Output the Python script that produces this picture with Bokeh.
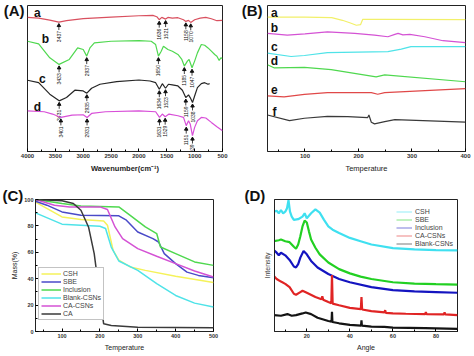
import numpy as np
from bokeh.plotting import figure
from bokeh.models import Range1d, FixedTicker, Legend, LegendItem, LinearAxis
from bokeh.layouts import column, row
from bokeh.embed import file_html
from bokeh.resources import INLINE
from bokeh.core.properties import value

FONT = "Liberation Sans"

# ---------------- Panel A: FTIR ----------------
wn_a = [4000, 3800, 3600, 3437, 3300, 3000, 2500, 2000, 1750, 1680, 1636, 1590, 1521, 1480, 1400, 1300, 1200, 1158, 1110, 1070, 1000, 900, 800, 700, 600, 500]
tr_a = [135, 134.3, 132.3, 130.3, 131.7, 133.7, 135.3, 136.7, 137, 135.7, 132.7, 135, 133.3, 135, 134.3, 134.7, 132.7, 131, 132, 130, 132.7, 134.3, 135, 133.7, 131.7, 132]
wn_b = [4000, 3800, 3600, 3433, 3250, 3100, 3000, 2937, 2880, 2800, 2500, 2000, 1780, 1700, 1650, 1600, 1560, 1480, 1400, 1300, 1230, 1185, 1130, 1100, 1047, 1000, 950, 880, 820, 760, 700, 640, 600, 560, 530, 500]
tr_b = [111, 108.3, 94.3, 87.7, 92.7, 104.3, 102.7, 96, 104.3, 109.3, 111, 111.7, 111, 107.7, 96, 101, 106, 102.7, 101, 97.7, 92.7, 86, 91, 92.7, 84.3, 91, 99.3, 107.7, 107, 104.3, 101, 97.7, 96, 91.7, 94.3, 93.7]
wn_c = [4000, 3800, 3600, 3431, 3300, 3150, 3000, 2935, 2850, 2700, 2400, 2000, 1800, 1700, 1634, 1580, 1523, 1470, 1400, 1300, 1220, 1159, 1110, 1080, 1038, 990, 950, 880, 820, 760, 731]
tr_c = [71.7, 69.3, 57.7, 51, 54.3, 61.7, 61, 58.7, 63.7, 67.7, 70.3, 72, 71, 69.3, 62.7, 68.3, 63.7, 67.7, 67, 66, 61.7, 54.3, 57, 54.3, 49.3, 57.7, 64.3, 68.3, 69.3, 67.7, 68.3]
wn_d = [4000, 3700, 3550, 3401, 3200, 3000, 2931, 2850, 2600, 2000, 1700, 1631, 1580, 1529, 1460, 1300, 1200, 1151, 1110, 1080, 1039, 1000, 950, 880, 800, 700, 600, 500]
tr_d = [41, 40, 37.7, 34.3, 36.7, 37, 34.3, 38.3, 40, 41, 40, 34.3, 37.7, 35, 37.7, 36, 34.3, 26, 31, 27.7, 16, 24.3, 31, 34.3, 33.7, 29.3, 25, 21]
peaks_a = [3437, 1636, 1521, 1158, 1070]
peaks_b = [3433, 2937, 1650, 1185, 1047]
peaks_c = [3431, 2935, 1634, 1523, 1159, 1038]
peaks_d = [3401, 2931, 1631, 1529, 1151, 1039]
ftir_colors = ["#d9505f", "#4fd84f", "#262626", "#d84fd8"]
ftir_tags = ["a", "b", "c", "d"]
ftir_tag_pos = [(3822, 139.3), (3680, 113), (3733, 73), (3822, 45)]
wn_ticks = [4000, 3500, 3000, 2500, 2000, 1500, 1000, 500]

# ---------------- Panel B: DSC ----------------
t_ba = [30, 100, 150, 170, 185, 196, 204, 208, 250, 400]
h_ba = [136.3, 136.2, 135.7, 133, 130.3, 128, 128.7, 134, 134, 133.7]
t_bb = [30, 67, 100, 142, 193, 230, 255, 268, 274, 283, 296, 324, 358, 400]
h_bb = [119.7, 118, 119.3, 121.3, 119.7, 118, 116.3, 118.7, 119.7, 118.3, 118.7, 116.3, 112.3, 110.3]
t_bc = [30, 74, 99, 142, 255, 280, 298, 400]
h_bc = [99.7, 96.3, 97.3, 100.3, 101.3, 103.7, 106.3, 106.3]
t_bd = [30, 43, 99, 149, 233, 249, 400]
h_bd = [88, 84.7, 85.3, 83, 75.7, 77.7, 70.7]
t_be = [30, 61, 99, 142, 224, 236, 249, 400]
h_be = [56.3, 55.3, 58, 59.7, 59.7, 58, 59.7, 63.7]
t_bf = [30, 71, 99, 142, 180, 217, 219.5, 224, 230, 249, 268, 400]
h_bf = [37, 31.3, 33.7, 35.7, 35.3, 34.3, 37, 29.7, 28, 30.3, 32.3, 29.7]
dsc_colors = ["#f2f06a", "#d452d4", "#4fe3e8", "#4fd84f", "#e04848", "#3a3a3a"]
dsc_tags = ["a", "b", "c", "d", "e", "f"]
dsc_tag_y = [140.3, 125, 106, 92, 63, 40.3]

# ---------------- Panel C: TGA ----------------
tga_names = ["CSH", "SBE", "Inclusion", "Blank-CSNs", "CA-CSNs", "CA"]
tga_colors = ["#f5f25a", "#4a4ac8", "#4fd84f", "#4fe3e8", "#d452d4", "#3a3a3a"]
t_csh = [30, 100, 150, 210, 220, 235, 250, 280, 320, 400, 500]
m_csh = [98, 86.8, 84.8, 83.8, 80.5, 61.5, 54, 48.9, 46.3, 41.8, 37.2]
t_sbe = [30, 60, 100, 150, 250, 270, 300, 340, 355, 370, 400, 430, 460, 500]
m_sbe = [98.7, 95.7, 90.6, 88, 87.6, 84.3, 75.4, 70.4, 67.8, 59, 51.4, 45, 42.5, 40.8]
t_inc = [30, 100, 150, 250, 280, 320, 350, 360, 400, 450, 500]
m_inc = [100, 97, 95, 94.4, 88, 79.2, 74.2, 64, 59, 52.7, 50.1]
t_blk = [30, 100, 150, 200, 215, 230, 250, 300, 350, 400, 450, 500]
m_blk = [89.9, 81.3, 80.5, 79.7, 78, 64, 53.4, 46.3, 36.2, 27.3, 21.5, 18.5]
t_cac = [30, 80, 120, 200, 220, 240, 260, 300, 350, 400, 450, 500]
m_cac = [100, 95.7, 94.4, 94.4, 92.4, 79.2, 70.4, 62.8, 57, 51.4, 45.8, 41.3]
t_ca = [30, 100, 130, 150, 170, 185, 200, 210, 230, 300, 500]
m_ca = [100, 99, 97, 91.9, 79.2, 59, 26, 5.8, 4.6, 3.3, 2.8]

# ---------------- Panel D: XRD ----------------
xrd_names = ["CSH", "SBE", "Inclusion", "CA-CSNs", "Blank-CSNs"]
xrd_colors = ["#3fe0f0", "#22d022", "#1414c0", "#e02424", "#141414"]
a_csh = [4.8, 6, 7, 8, 9, 10, 10.8, 11.5, 12.2, 13, 14, 16, 18, 19, 20, 22, 24, 26, 28, 30, 32, 35, 40, 45, 50, 60, 70, 80, 90]
i_csh = [365, 368, 360, 370, 360, 365, 375, 400, 365, 350, 340, 342, 350, 360, 345, 360, 372, 362, 340, 320, 310, 300, 285, 275, 265, 254, 250, 248, 247]
a_sbe = [4.8, 7, 8, 10, 12, 14, 15, 16, 17, 18, 19, 20, 21, 22, 24, 26, 30, 35, 40, 45, 50, 60, 70, 80, 90]
i_sbe = [275, 278, 280, 275, 272, 258, 252, 265, 290, 320, 338, 332, 305, 280, 255, 235, 210, 190, 177, 167, 160, 150, 146, 144, 143]
a_inc = [4.8, 6, 7, 8, 10, 12, 14, 15, 16, 17, 18.5, 20, 22, 25, 30, 35, 40, 50, 60, 70, 80, 90]
i_inc = [247, 240, 232, 240, 232, 218, 198, 195, 205, 225, 245, 235, 215, 195, 175, 160, 150, 135, 126, 122, 120, 118]
a_cac = [4.8, 6, 8, 10, 12, 14, 15, 17, 18, 20, 24, 26.8, 27.2, 27.6, 30, 31.4, 31.7, 32.0, 35, 40, 45.1, 45.4, 45.7, 50, 56.1, 56.4, 56.7, 60, 66, 75.0, 75.3, 75.6, 83.7, 84.0, 84.3, 90]
i_cac = [168, 160, 152, 145, 135, 115, 112, 120, 124, 118, 105, 98, 107, 97, 90, 86, 172, 85, 80, 72, 68, 105, 67, 62, 58, 65, 57, 55, 54, 53, 59, 53, 52, 58, 52, 50]
a_blk = [4.8, 8, 11, 13, 15, 18, 19.5, 22, 25, 30, 31.5, 31.7, 31.9, 35, 40, 45.2, 45.4, 45.6, 50, 56, 60, 75, 90]
i_blk = [50, 48, 53, 48, 50, 55, 58, 53, 42, 32, 30, 60, 29, 25, 20, 18, 34, 18, 15, 14, 12, 10, 8]


def base_fig(xr, yr, left, right, top, bottom):
    p = figure(width=237, height=178, x_range=xr, y_range=yr,
               output_backend="svg", toolbar_location=None,
               min_border_left=left, min_border_right=right,
               min_border_top=top, min_border_bottom=bottom)
    p.xgrid.visible = False
    p.ygrid.visible = False
    p.outline_line_color = "#222222"
    p.outline_line_width = 1
    p.background_fill_color = "white"
    p.border_fill_color = "white"
    return p


def style_x(ax, ticks, minor, title, bold_title=False, fs="6px", tfs="7.5px"):
    ax.ticker = FixedTicker(ticks=ticks, minor_ticks=minor)
    ax.major_label_text_font = FONT
    ax.major_label_text_font_size = fs
    ax.major_label_text_font_style = "bold"
    ax.major_label_text_color = "#333333"
    ax.major_label_standoff = 2
    ax.major_tick_in = 3
    ax.major_tick_out = 0
    ax.minor_tick_in = 2
    ax.minor_tick_out = 0
    ax.axis_line_color = "#222222"
    ax.axis_label = title
    ax.axis_label_text_font = FONT
    ax.axis_label_text_font_size = tfs
    ax.axis_label_text_font_style = "bold" if bold_title else "normal"
    ax.axis_label_text_color = "#222222"
    ax.axis_label_standoff = 3


def label_axis(p, txt, ypos, standoff):
    # panel letter drawn as the single tick label of a bare left axis
    ax = LinearAxis(ticker=FixedTicker(ticks=[ypos], minor_ticks=[]),
                    major_label_overrides={ypos: txt},
                    major_label_text_font=FONT, major_label_text_font_size="15px",
                    major_label_text_font_style="bold", major_label_text_color="#111111",
                    major_label_orientation="horizontal", major_label_standoff=standoff,
                    axis_line_color=None, major_tick_line_color=None, minor_tick_line_color=None,
                    major_tick_in=0, major_tick_out=0)
    p.add_layout(ax, "left")


def title_label(p, txt, offset):
    p.title.text = txt
    p.title.align = "left"
    p.title.offset = offset
    p.title.standoff = -9
    p.title.text_font = FONT
    p.title.text_font_size = "15px"
    p.title.text_font_style = "bold"
    p.title.text_color = "#111111"


# ---- A ----
pA = base_fig(Range1d(4000, 500), Range1d(0, 147), 25, 15, 4, 27)
pA.yaxis.visible = False
style_x(pA.xaxis[0], wn_ticks, list(range(750, 4000, 500)), "Wavenumber(cm\u207b\u00b9)", bold_title=True)
ftir = [(wn_a, tr_a, peaks_a), (wn_b, tr_b, peaks_b), (wn_c, tr_c, peaks_c), (wn_d, tr_d, peaks_d)]
for (wx, ty, pk), col, tag, tp in zip(ftir, ftir_colors, ftir_tags, ftir_tag_pos):
    pA.line(wx, ty, line_color=col, line_width=1.2)
    yv = np.interp(pk, wx[::-1], ty[::-1])
    pA.segment(x0=pk, y0=yv - 3, x1=pk, y1=yv - 8, line_color="#111111", line_width=0.8)
    pA.scatter(x=pk, y=yv - 3.5, marker="triangle", size=3.5, fill_color="#111111", line_color="#111111")
    pA.text(x=pk, y=yv - 9, text=[str(v) for v in pk], angle=np.pi / 2, text_align="right",
            text_baseline="middle", text_font=value(FONT), text_font_size="5px", text_color="#111111")
    pA.text(x=[tp[0]], y=[tp[1]], text=[tag], text_align="center", text_baseline="middle",
            text_font=value(FONT), text_font_size="12px", text_font_style="bold", text_color="#111111")
label_axis(pA, "(A)", 142, 3)

# ---- B ----
pB = base_fig(Range1d(30, 400), Range1d(0, 148), 30, 9, 5, 25)
pB.yaxis.visible = False
style_x(pB.xaxis[0], [100, 200, 300, 400], [50, 150, 250, 350], "Temperature")
dsc = [(t_ba, h_ba), (t_bb, h_bb), (t_bc, h_bc), (t_bd, h_bd), (t_be, h_be), (t_bf, h_bf)]
for (tx, hy), col, tag, ty in zip(dsc, dsc_colors, dsc_tags, dsc_tag_y):
    pB.line(tx, hy, line_color=col, line_width=1.2)
    pB.text(x=[43], y=[ty], text=[tag], text_align="center", text_baseline="middle",
            text_font=value(FONT), text_font_size="12px", text_font_style="bold", text_color="#111111")
label_axis(pB, "(B)", 143, 5)

# ---- C ----
pC = base_fig(Range1d(30, 500), Range1d(0, 100), 35, 24, 21, 25)
style_x(pC.xaxis[0], [100, 200, 300, 400, 500], [50, 150, 250, 350, 450], "Temperature", fs="5.5px", tfs="7px")
style_x(pC.yaxis[0], [0, 20, 40, 60, 80, 100], [10, 30, 50, 70, 90], "Mass(%)", fs="5.5px", tfs="7px")
pC.yaxis[0].major_label_orientation = "horizontal"
tga = [(t_csh, m_csh), (t_sbe, m_sbe), (t_inc, m_inc), (t_blk, m_blk), (t_cac, m_cac), (t_ca, m_ca)]
itemsC = []
for (tx, my), col, nm in zip(tga, tga_colors, tga_names):
    r = pC.line(tx, my, line_color=col, line_width=1.5)
    itemsC.append(LegendItem(label=nm, renderers=[r]))
legC = Legend(items=itemsC, location=(3, 11), label_text_font=FONT, label_text_font_size="7px",
              label_height=7, glyph_height=7, glyph_width=20, label_standoff=2, spacing=1,
              padding=2, margin=0, border_line_color="#888888", border_line_width=1,
              background_fill_alpha=1)
pC.add_layout(legC)
title_label(pC, "(C)", -33)

# ---- D ----
pD = base_fig(Range1d(5, 90), Range1d(0, 402), 37, 17, 21, 23)
style_x(pD.xaxis[0], [20, 40, 60, 80], [10, 30, 50, 70, 90], "Angle", fs="5.5px", tfs="7px")
pD.yaxis[0].ticker = FixedTicker(ticks=[])
pD.yaxis[0].axis_label = "Intensity"
pD.yaxis[0].axis_label_text_font = FONT
pD.yaxis[0].axis_label_text_font_size = "7px"
pD.yaxis[0].axis_label_text_font_style = "normal"
pD.yaxis[0].axis_label_standoff = 4
pD.yaxis[0].axis_line_color = "#222222"
xrd = [(a_csh, i_csh), (a_sbe, i_sbe), (a_inc, i_inc), (a_cac, i_cac), (a_blk, i_blk)]
itemsD = []
for (ax_, iy), col, nm in zip(xrd, xrd_colors, xrd_names):
    pD.line(ax_, iy, line_color=col, line_width=2.2)
    rl = pD.line([None], [None], line_color=col, line_width=0.8, line_alpha=0.7)
    itemsD.append(LegendItem(label=nm, renderers=[rl]))
legD = Legend(items=itemsD, location=(122, 84), label_text_font=FONT, label_text_font_size="7px",
              label_height=7, glyph_height=7, glyph_width=16, label_standoff=3, spacing=1,
              padding=0, margin=0, border_line_alpha=0, background_fill_alpha=0)
pD.add_layout(legD)
title_label(pD, "(D)", -30)

layout = column(row(pA, pB), row(pC, pD))
open("out.html", "w").write(file_html(layout, INLINE))
